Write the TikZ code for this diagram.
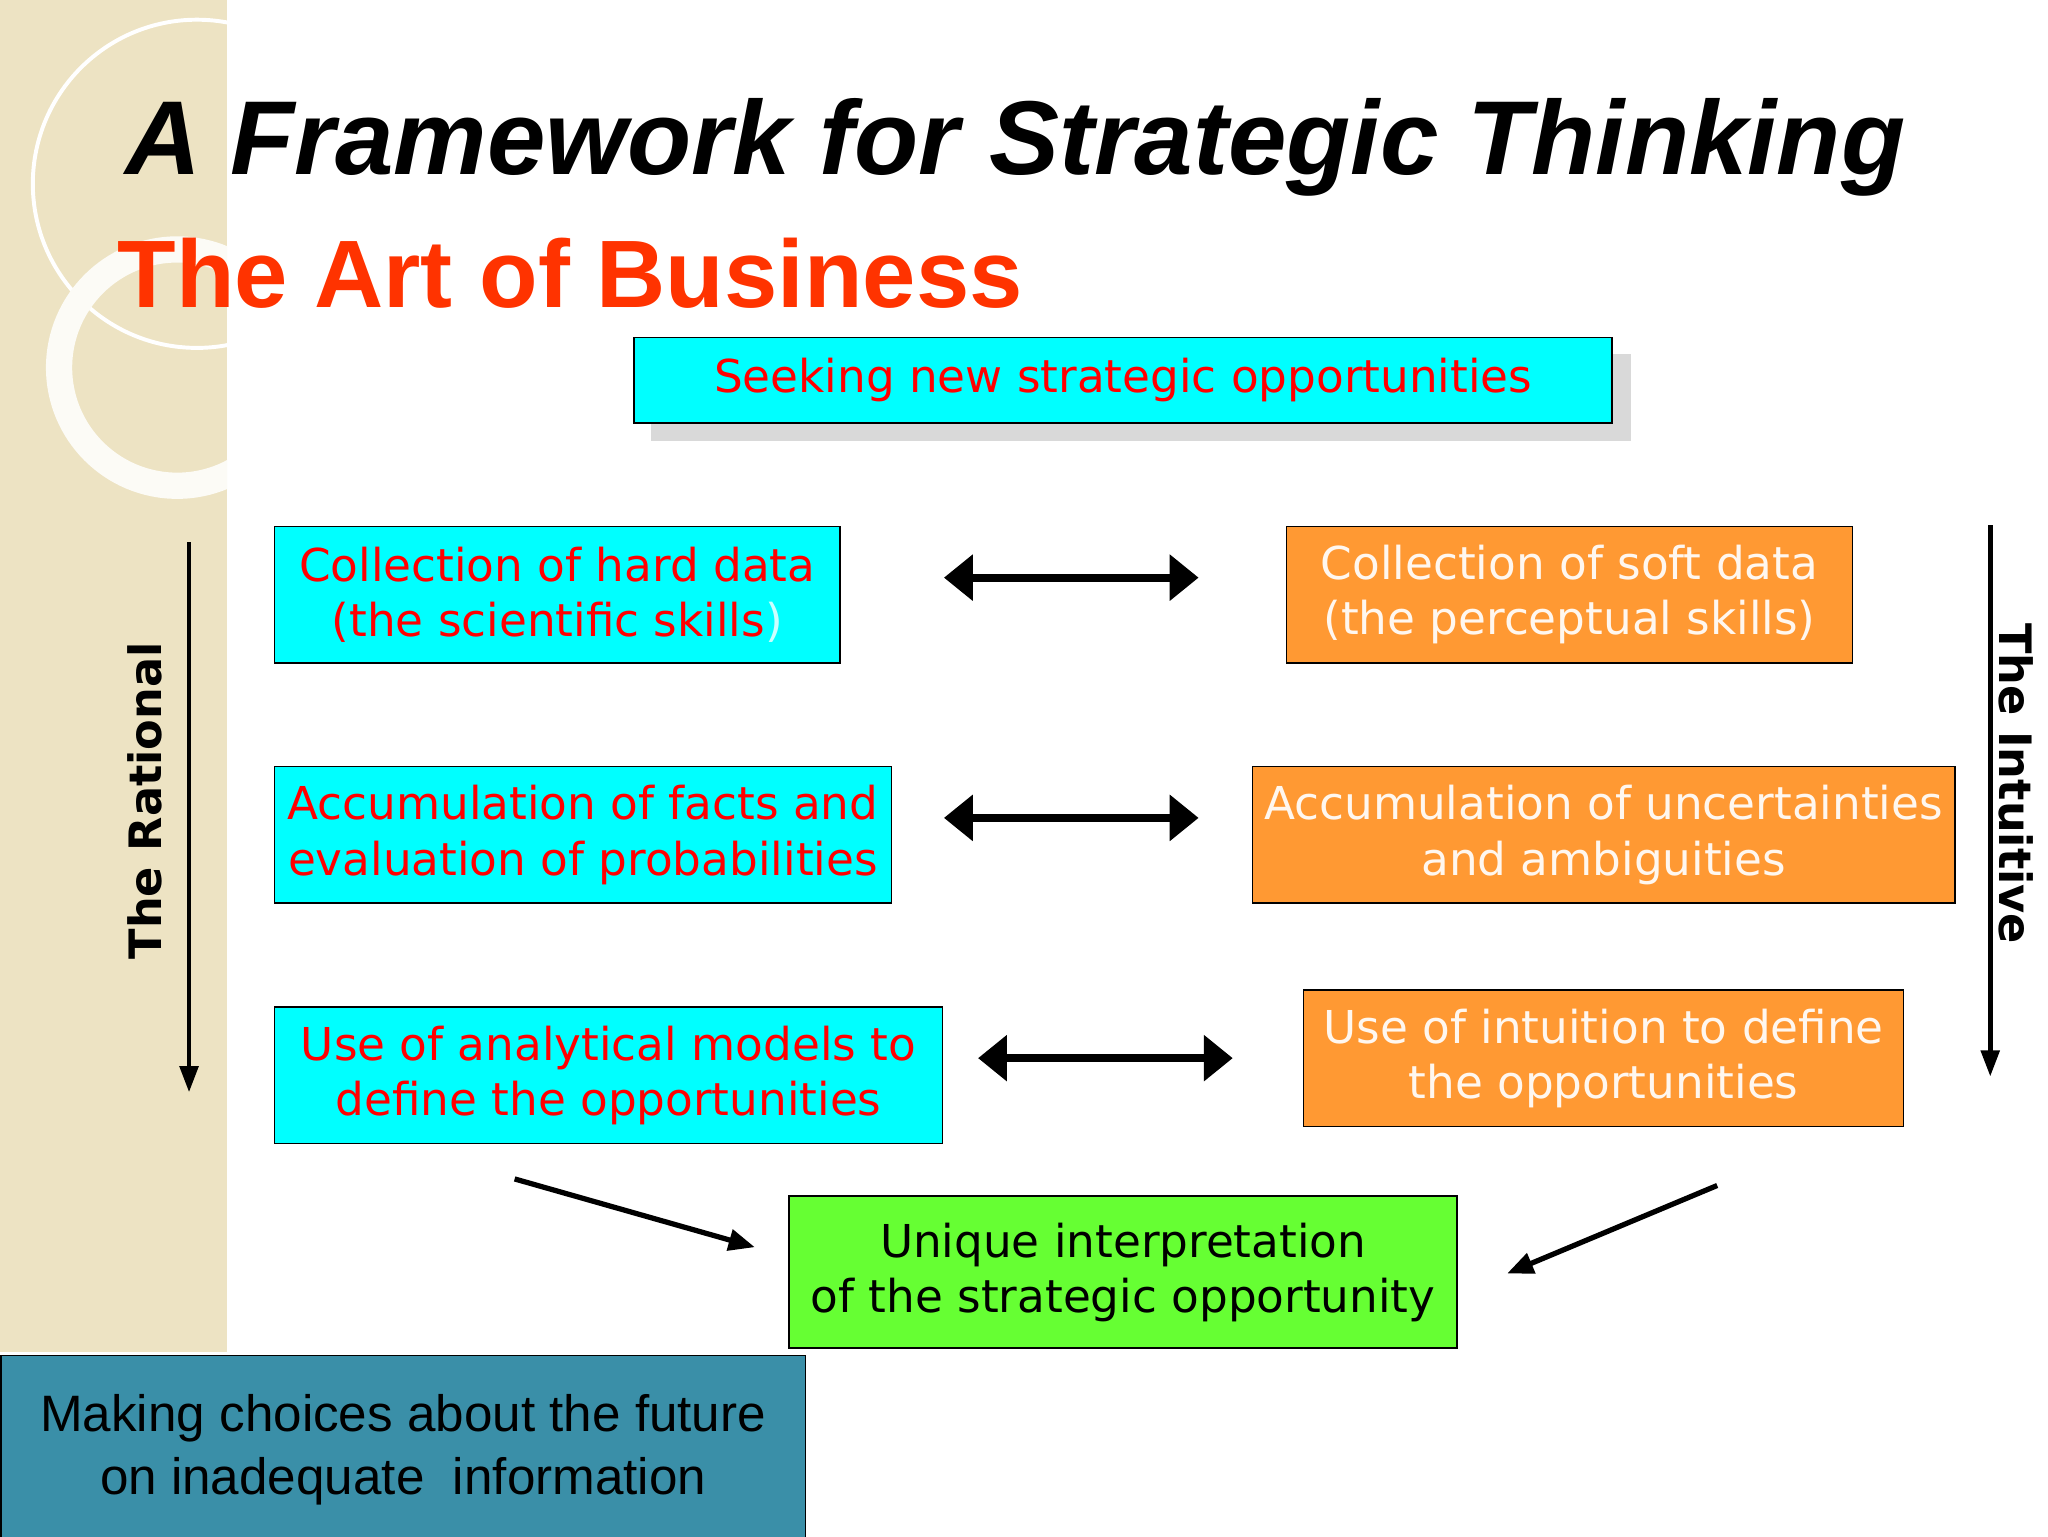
\documentclass[tikz,border=0pt]{standalone}
\usepackage{fontspec}
\setmainfont{DejaVu Sans}
\newfontfamily\titlefont{Liberation Sans}
\usetikzlibrary{arrows.meta}
\definecolor{cy}{HTML}{00FFFF}
\definecolor{orng}{HTML}{FF9933}
\definecolor{grn}{HTML}{66FF33}
\definecolor{teal2}{HTML}{3A8FA8}
\definecolor{beige}{HTML}{EDE3C3}
\definecolor{tred}{HTML}{FF3300}
\definecolor{bred}{HTML}{FF0000}
\tikzset{
 cbox/.style={draw=black,line width=1.2pt,fill=cy,text=bred,align=center,font=\fontsize{34.5}{42}\selectfont,inner sep=0pt},
 obox/.style={draw=black,line width=1.2pt,fill=orng,text=white!92!orng,align=center,font=\fontsize{34.5}{42}\selectfont,inner sep=0pt},
 darr/.style={{Triangle[length=22pt,width=34pt]}-{Triangle[length=22pt,width=34pt]},line width=6pt},
 varr/.style={-{Triangle[length=20pt,width=14pt]},line width=3.5pt},
 sarr/.style={-{Triangle[length=20pt,width=16pt]},line width=4pt},
}
\begin{document}
\begin{tikzpicture}[x=1pt,y=-1pt]
\useasboundingbox (0,0) rectangle (1560,1170);
\fill[white] (0,0) rectangle (1560,1170);
\fill[beige] (0,0) rectangle (173,1030);
\begin{scope}
\clip (0,0) rectangle (173,1030);
\draw[white,line width=3pt] (150,140) circle (125);
\draw[white!85!beige,line width=20pt] (135,280) circle (90);
\end{scope}
\node[anchor=west,font=\titlefont\bfseries\itshape\fontsize{80}{90}\selectfont] (t) at (92,112) {A Framework for Strategic Thinking};
\node[anchor=west,text=tred,font=\titlefont\bfseries\fontsize{73}{80}\selectfont] (s) at (86,208) {The Art of Business};
\fill[black!15] (496,270) rectangle (1242,336);
\node[cbox,minimum width=745,minimum height=65] (seek) at (855.5,289.5) {Seeking new strategic opportunities};
\node[cbox,minimum width=431,minimum height=104] (c1) at (424.5,453) {Collection of hard data\\(the scientific skills\textcolor{white!80!cy}{)}};
\node[cbox,minimum width=470,minimum height=104] (c2) at (444,636) {Accumulation of facts and\\evaluation of probabilities};
\node[cbox,minimum width=509,minimum height=104] (c3) at (463.5,819) {Use of analytical models to\\define the opportunities};
\node[obox,minimum width=431,minimum height=104] (o1) at (1195.5,453) {Collection of soft data\\(the perceptual skills)};
\node[obox,minimum width=535,minimum height=104] (o2) at (1221.5,636) {Accumulation of uncertainties\\and ambiguities};
\node[obox,minimum width=457,minimum height=104] (o3) at (1221.5,806) {Use of intuition to define\\the opportunities};
\node[draw=black,line width=1.2pt,fill=grn,align=center,font=\fontsize{34.5}{42}\selectfont,minimum width=509,minimum height=116,inner sep=0pt] (u) at (855.5,969) {Unique interpretation\\of the strategic opportunity};
\node[draw=black,line width=1.2pt,fill=teal2,align=center,font=\titlefont\fontsize{39}{48}\selectfont,minimum width=613,minimum height=143,inner sep=0pt,anchor=north west] (m) at (0,1032) {Making choices about the future\\on inadequate\ \ information};
\coordinate (a1l) at (719,440); \coordinate (a1r) at (913,440);
\coordinate (a2l) at (719,623); \coordinate (a2r) at (913,623);
\coordinate (a3l) at (745,806); \coordinate (a3r) at (939,806);
\draw[darr] (a1l) -- (a1r);
\draw[darr] (a2l) -- (a2r);
\draw[darr] (a3l) -- (a3r);
\coordinate (rt) at (144,413); \coordinate (rb) at (144,832);
\draw[varr] (rt) -- (rb);
\coordinate (it) at (1516,400); \coordinate (ib) at (1516,820);
\draw[varr] (it) -- (ib);
\node[rotate=90,font=\bfseries\fontsize{34}{40}\selectfont] (rl) at (110,610) {The Rational};
\node[rotate=-90,font=\bfseries\fontsize{34}{40}\selectfont] (il) at (1536,597) {The Intuitive};
\coordinate (l1) at (392,898); \coordinate (l2) at (575,950);
\draw[sarr] (l1) -- (l2);
\coordinate (r1) at (1308,903); \coordinate (r2) at (1148,970);
\draw[sarr] (r1) -- (r2);
\end{tikzpicture}
\end{document}
